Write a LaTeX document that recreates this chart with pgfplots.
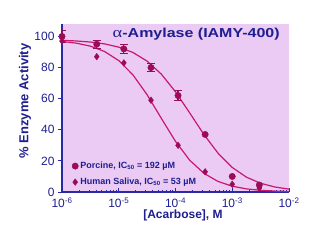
\documentclass[border=0pt]{standalone}
\usepackage{pgfplots}
\pgfplotsset{compat=1.18}
\usepackage{fontspec}
\setmainfont{Liberation Sans}
\newfontfamily\greekserif{Liberation Serif}
\definecolor{bgc}{HTML}{EBCBF4}
\definecolor{axc}{HTML}{2A2AA6}
\definecolor{txc}{HTML}{1E1E90}
\definecolor{crv}{HTML}{C8186E}
\definecolor{mkc}{HTML}{9A0C55}
\begin{document}
\begin{tikzpicture}
\begin{axis}[name=ax,
  scale only axis, width=227pt, height=168pt,
  xmode=log, xmin=1e-6, xmax=1e-2, ymin=0, ymax=108,
  axis lines=left, axis line style={-, axc, line width=1.1pt},
  axis background/.style={fill=bgc},
  xtick={1e-6,1e-5,1e-4,1e-3,1e-2},
  xticklabels={10\textsuperscript{-6},10\textsuperscript{-5},10\textsuperscript{-4},10\textsuperscript{-3},10\textsuperscript{-2}},
  ytick={0,20,40,60,80,100},
  /pgf/number format/assume math mode=true,
  tick label style={font=\fontsize{12}{14}\selectfont, color=txc},
  xticklabel style={yshift=-2pt},
  xtick align=inside, ytick align=outside,
  tick style={axc, line width=0.9pt},
  major tick length=4pt, minor tick length=2.5pt,
  xlabel={\textbf{[Acarbose], M}}, ylabel={\textbf{\% Enzyme Activity}},
  xlabel style={font=\fontsize{12}{14}\selectfont, color=txc, at={(axis description cs:0.533,-0.137)}, anchor=center},
  ylabel style={font=\fontsize{13}{15}\selectfont, color=txc, at={(axis description cs:-0.163,0.542)}, anchor=center},
  legend style={draw=none, fill=none, at={(0.03,0.01)}, anchor=south west,
    font=\fontsize{9}{10}\selectfont\bfseries, text=txc, row sep=4pt},
  legend cell align=left,
]
% fitted curves
\addplot[crv, line width=1.2pt, forget plot] coordinates {
(1e-6,97.49)(1.778e-6,97.10)(3.162e-6,96.41)(5.623e-6,95.21)(1e-5,93.14)(1.778e-5,89.69)(3.162e-5,84.13)(5.623e-5,75.79)(1e-4,64.42)(1.778e-4,50.86)(3.162e-4,37.01)(5.623e-4,24.93)(1e-3,15.78)(1.778e-3,9.54)(3.162e-3,5.61)(5.623e-3,3.23)(1e-2,1.84)};
\addplot[crv, line width=1.2pt, forget plot] coordinates {
(1e-6,96.77)(1.778e-6,95.71)(3.162e-6,93.77)(5.623e-6,90.33)(1e-5,84.48)(1.778e-5,75.31)(3.162e-5,62.52)(5.623e-5,47.37)(1e-4,32.54)(1.778e-4,20.46)(3.162e-4,12.04)(5.623e-4,6.78)(1e-3,3.72)(1.778e-3,2.01)(3.162e-3,1.08)(5.623e-3,0.58)(1e-2,0.31)};
% porcine
\addplot[only marks, mark=*, mark size=3.2pt, color=mkc,
  error bars/.cd, y dir=both, y explicit, error bar style={line width=1.2pt, mkc},
  error mark options={rotate=90, mark size=3.8pt, line width=1.2pt, mkc}]
  coordinates {
(1e-6,100) +- (0,4)
(4.1e-6,95) +- (0,2.5)
(1.23e-5,92) +- (0,3)
(3.7e-5,80) +- (0,2.5)
(1.11e-4,62) +- (0,3)};
\addlegendentry{Porcine, IC\textsubscript{50} = 192 µM}
\addplot[only marks, mark=*, mark size=3.2pt, color=mkc, forget plot] coordinates {
(3.33e-4,37)(1e-3,10)(3e-3,4.5)};
% human saliva
\addplot[only marks, mark=diamond*, mark size=3.3pt, color=mkc] coordinates {
(1e-6,97)(4.1e-6,87)(1.23e-5,83)(3.7e-5,59)(1.11e-4,30)(3.33e-4,13)(1e-3,5)(3e-3,2.5)};
\addlegendentry{Human Saliva, IC\textsubscript{50} = 53 µM}
\node[anchor=north east, inner sep=0pt, font=\fontsize{13}{15}\selectfont\bfseries, text=txc]
  at (axis description cs:0.96,0.976) {\resizebox{167pt}{\height}{{\greekserif\mdseries\fontsize{15}{15}\selectfont α}-Amylase (IAMY-400)}};
\end{axis}
\path[use as bounding box] ([xshift=-62pt,yshift=-54pt]ax.south west) rectangle ([xshift=31pt,yshift=24pt]ax.north east);
\end{tikzpicture}
\end{document}
